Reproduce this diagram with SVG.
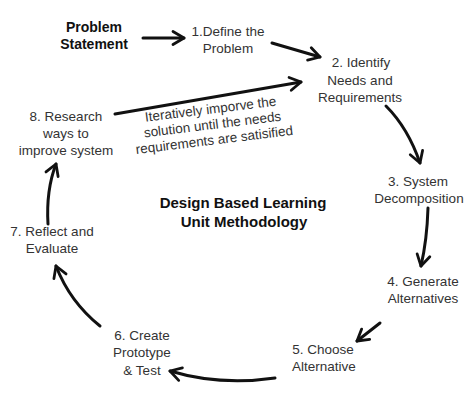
<svg xmlns="http://www.w3.org/2000/svg" width="474" height="403" viewBox="0 0 474 403">
<style>
.lbl{font-family:"Liberation Sans",Arial,sans-serif;font-size:13.5px;fill:#333;text-anchor:middle}
.bold{font-family:"Liberation Sans",Arial,sans-serif;font-weight:bold;fill:#111;text-anchor:middle}
.arr{fill:none;stroke:#111;stroke-width:3;stroke-linecap:round;marker-end:url(#ah)}
</style>
<defs>
<marker id="ah" markerUnits="userSpaceOnUse" markerWidth="20" markerHeight="20" refX="0" refY="0" viewBox="-14 -10 16 20" orient="auto">
<path d="M-11,-6.5 L0,0 L-11,6.5" fill="none" stroke="#111" stroke-width="2.8" stroke-linecap="round" stroke-linejoin="round"/>
</marker>
</defs>
<rect width="474" height="403" fill="#fff"/>
<g id="connectors">
<path class="arr" d="M143,38 L184,38"/>
<path class="arr" d="M272,43 L320,57"/>
<path class="arr" d="M115,114 L301,82"/>
<path class="arr" d="M386,106 Q408,128 420,163"/>
<path class="arr" d="M428,208 Q427,240 421,266"/>
<path class="arr" d="M380,323 L357,341"/>
<path class="arr" d="M275,378 Q220,386 170,371"/>
<path class="arr" d="M100,326 Q70,302 56,266"/>
<path class="arr" d="M48,224 Q46,190 56,164"/>
</g>
<g id="problem-statement">
<text class="bold" font-size="14" x="94" y="32">Problem</text>
<text class="bold" font-size="14" x="94" y="49">Statement</text>
</g>
<g id="step1">
<text class="lbl" x="228" y="36">1.Define the</text>
<text class="lbl" x="228" y="53">Problem</text>
</g>
<g id="step2">
<text class="lbl" x="361" y="67">2. Identify</text>
<text class="lbl" x="360" y="85">Needs and</text>
<text class="lbl" x="360" y="102">Requirements</text>
</g>
<g id="step3">
<text class="lbl" x="418" y="186">3. System</text>
<text class="lbl" x="419" y="203">Decomposition</text>
</g>
<g id="step4">
<text class="lbl" x="423" y="286">4. Generate</text>
<text class="lbl" x="423" y="303">Alternatives</text>
</g>
<g id="step5">
<text class="lbl" x="323" y="354">5. Choose</text>
<text class="lbl" x="324" y="371">Alternative</text>
</g>
<g id="step6">
<text class="lbl" x="142" y="340">6. Create</text>
<text class="lbl" x="142" y="357">Prototype</text>
<text class="lbl" x="142" y="375">&amp; Test</text>
</g>
<g id="step7">
<text class="lbl" x="52" y="236">7. Reflect and</text>
<text class="lbl" x="52" y="253">Evaluate</text>
</g>
<g id="step8">
<text class="lbl" x="66" y="121">8. Research</text>
<text class="lbl" x="66" y="138">ways to</text>
<text class="lbl" x="66" y="155">improve system</text>
</g>
<g id="iterate-label" transform="translate(213,129) rotate(-7)">
<text class="lbl" x="0" y="-15.5">Iteratively imporve the</text>
<text class="lbl" x="0" y="0">solution until the needs</text>
<text class="lbl" x="0" y="15.5">requirements are satisified</text>
</g>
<g id="title">
<text class="bold" font-size="15" x="243" y="208">Design Based Learning</text>
<text class="bold" font-size="15" x="244" y="227">Unit Methodology</text>
</g>
</svg>
